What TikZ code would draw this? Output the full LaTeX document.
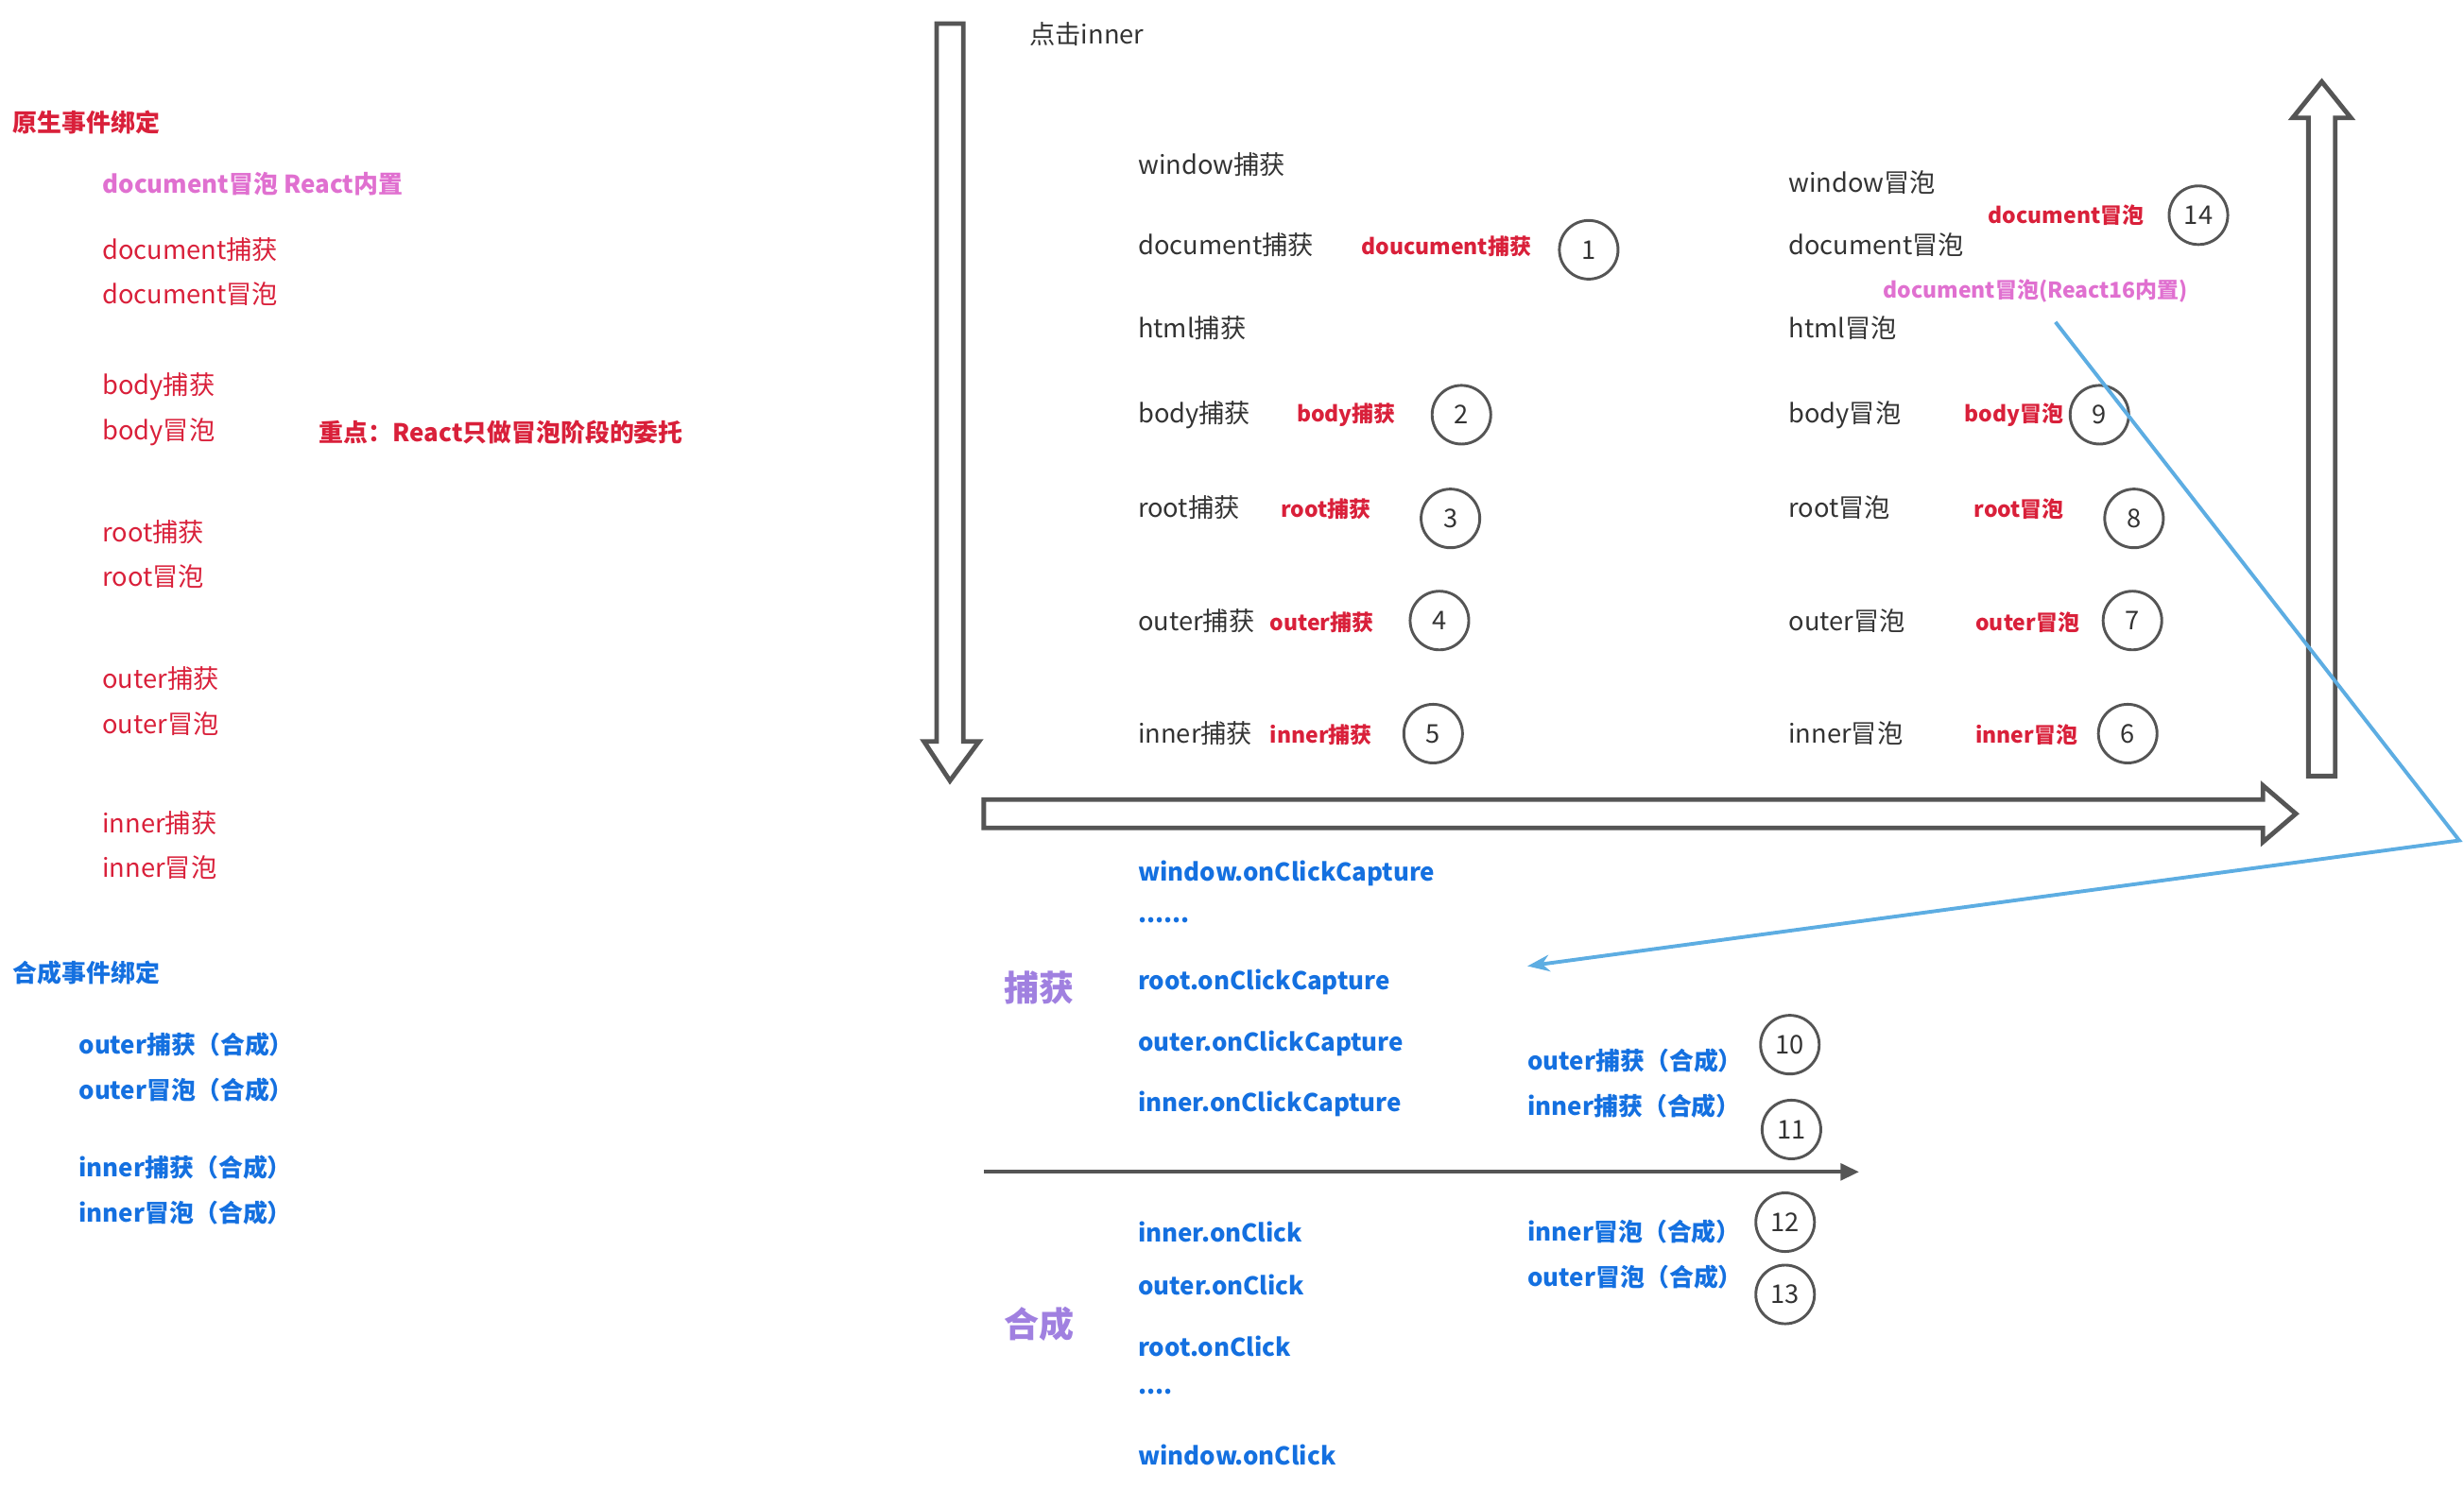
\documentclass[tikz,border=0pt]{standalone}
\usepackage{fontspec}
\setmainfont{Noto Sans CJK SC}
\usetikzlibrary{arrows.meta}
\definecolor{rd}{HTML}{D9203A}
\definecolor{bl}{HTML}{1470E0}
\definecolor{pk}{HTML}{E070D0}
\definecolor{pu}{HTML}{A080E0}
\definecolor{gr}{HTML}{333333}
\definecolor{ar}{HTML}{555555}
\definecolor{ln}{HTML}{5DADE2}
\tikzset{
 t/.style={anchor=west,inner sep=0pt,font=\fontsize{14}{16}\selectfont},
 g/.style={t,text=gr},
 r/.style={t,text=rd},
 rb/.style={t,text=rd,font=\fontsize{11.8}{14}\selectfont\bfseries},
 b/.style={t,text=bl,font=\fontsize{13.3}{16}\selectfont\bfseries},
 p/.style={t,text=pk,font=\fontsize{13.3}{16}\selectfont\bfseries},
 num/.style={circle,draw=ar,line width=1.5pt,minimum size=1.12cm,inner sep=0pt,text=gr,font=\fontsize{14}{16}\selectfont},
 hollow/.style={draw=ar,line width=2.5pt,fill=white,line join=miter}
}
\begin{document}
\begin{tikzpicture}[x=0.03cm,y=-0.03cm]
\useasboundingbox (0,0) rectangle (1568,948);
% left column
\node[t,text=rd,font=\fontsize{13.3}{16}\selectfont\bfseries] (h1) at (8,78) {原生事件绑定};
\node[p] (l0) at (65,117) {document冒泡 React内置};
\node[r] (l1) at (65,159) {document捕获};
\node[r] (l2) at (65,187) {document冒泡};
\node[r] (l3) at (65,246) {body捕获};
\node[r] (l4) at (65,275) {body冒泡};
\node[t,text=rd,font=\fontsize{13.3}{16}\selectfont\bfseries] (key) at (203,275) {重点：React只做冒泡阶段的委托};
\node[r] (l5) at (65,339) {root捕获};
\node[r] (l6) at (65,367) {root冒泡};
\node[r] (l7) at (65,432) {outer捕获};
\node[r] (l8) at (65,461) {outer冒泡};
\node[r] (l9) at (65,524) {inner捕获};
\node[r] (l10) at (65,552) {inner冒泡};
\node[b] (h2) at (8,619) {合成事件绑定};
\node[b] (s1) at (50,665) {outer捕获（合成）};
\node[b] (s2) at (50,694) {outer冒泡（合成）};
\node[b] (s3) at (50,743) {inner捕获（合成）};
\node[b] (s4) at (50,772) {inner冒泡（合成）};
% hollow arrows
\draw[hollow] (596,15) -- (613,15) -- (613,472) -- (623,472) -- (604.5,497) -- (588,472) -- (596,472) -- cycle;
\draw[hollow] (1469,494) -- (1486,494) -- (1486,75) -- (1496,75) -- (1477.5,52) -- (1459,75) -- (1469,75) -- cycle;
\draw[hollow] (626,509) -- (1440,509) -- (1440,500) -- (1461,518) -- (1440,536) -- (1440,527) -- (626,527) -- cycle;
\node[g] (click) at (655,22) {点击inner};
% capture column
\node[g] (c1) at (724,105) {window捕获};
\node[g] (c2) at (724,156) {document捕获};
\node[g] (c3) at (724,209) {html捕获};
\node[g] (c4) at (724,264) {body捕获};
\node[g] (c5) at (724,323) {root捕获};
\node[g] (c6) at (724,395) {outer捕获};
\node[g] (c7) at (724,467) {inner捕获};
\node[rb] (cr1) at (866,157) {doucument捕获};
\node[rb] (cr2) at (825,264) {body捕获};
\node[rb] (cr3) at (815,324) {root捕获};
\node[rb] (cr4) at (808,396) {outer捕获};
\node[rb] (cr5) at (808,468) {inner捕获};
\node[num] (n1) at (1011,159) {1};
\node[num] (n2) at (930,264) {2};
\node[num] (n3) at (923,330) {3};
\node[num] (n4) at (916,395) {4};
\node[num] (n5) at (912,467) {5};
% bubble column
\node[g] (u1) at (1138,116) {window冒泡};
\node[g] (u2) at (1138,156) {document冒泡};
\node[g] (u3) at (1138,209) {html冒泡};
\node[g] (u4) at (1138,264) {body冒泡};
\node[g] (u5) at (1138,323) {root冒泡};
\node[g] (u6) at (1138,395) {outer冒泡};
\node[g] (u7) at (1138,467) {inner冒泡};
\node[rb] (ur1) at (1265,137) {document冒泡};
\node[t,text=pk,font=\fontsize{11.8}{14}\selectfont\bfseries] (ur0) at (1198,185) {document冒泡(React16内置)};
\node[rb] (ur2) at (1250,264) {body冒泡};
\node[rb] (ur3) at (1256,324) {root冒泡};
\node[rb] (ur4) at (1257,396) {outer冒泡};
\node[rb] (ur5) at (1257,468) {inner冒泡};
\node[num] (n14) at (1399,137) {14};
\node[num] (n9) at (1336,264) {9};
\node[num] (n8) at (1358,330) {8};
\node[num] (n7) at (1357,395) {7};
\node[num] (n6) at (1354,467) {6};
% lower section
\node[t,text=pu,font=\fontsize{19}{22}\selectfont\bfseries] (cap) at (639,629) {捕获};
\node[t,text=pu,font=\fontsize{19}{22}\selectfont\bfseries] (syn) at (639,843) {合成};
\node[b] (w1) at (724,556) {window.onClickCapture};
\node[b] (w2) at (724,586) {......};
\node[b] (w3) at (724,625) {root.onClickCapture};
\node[b] (w4) at (724,664) {outer.onClickCapture};
\node[b] (w5) at (724,703) {inner.onClickCapture};
\node[b] (k1) at (724,784) {inner.onClick};
\node[b] (k2) at (724,818) {outer.onClick};
\node[b] (k3) at (724,857) {root.onClick};
\node[b] (k4) at (724,886) {....};
\node[b] (k5) at (724,926) {window.onClick};
\node[b] (m1) at (972,675) {outer捕获（合成）};
\node[b] (m2) at (972,704) {inner捕获（合成）};
\node[b] (m3) at (972,784) {inner冒泡（合成）};
\node[b] (m4) at (972,813) {outer冒泡（合成）};
\node[num] (n10) at (1139,665) {10};
\node[num] (n11) at (1140,719) {11};
\node[num] (n12) at (1136,778) {12};
\node[num] (n13) at (1136,824) {13};
\coordinate (la) at (626,746);
\coordinate (lb) at (1183,746);
\draw[ar,line width=2pt,-{Triangle[length=10pt,width=9pt]}] (la) -- (lb);
% blue connector
\coordinate (b0) at (1308,205);
\coordinate (b1) at (1565,535);
\coordinate (b2) at (972,615);
\draw[ln,line width=2pt,-{Stealth[length=12pt,width=9pt]}] (b0) -- (b1) -- (b2);
\end{tikzpicture}
\end{document}
